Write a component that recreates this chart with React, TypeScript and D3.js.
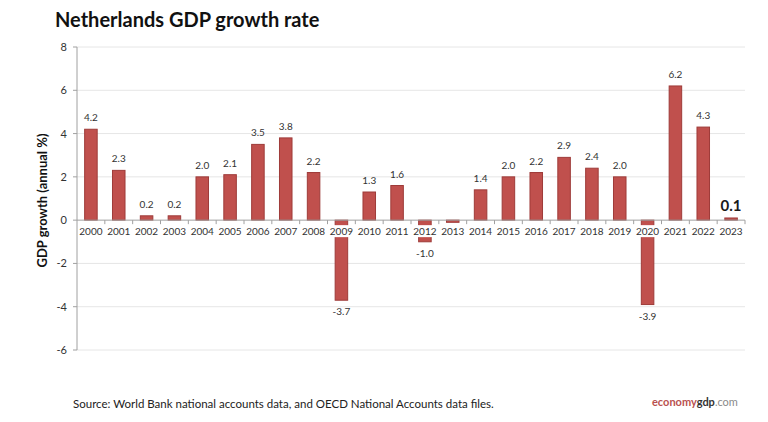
import React from "react";
import * as d3 from "d3";

const years = [
  "2000", "2001", "2002", "2003", "2004", "2005", "2006", "2007", "2008", "2009", "2010", "2011",
  "2012", "2013", "2014", "2015", "2016", "2017", "2018", "2019", "2020", "2021", "2022", "2023",
];
const growth = [
  4.2, 2.3, 0.2, 0.2, 2.0, 2.1, 3.5, 3.8, 2.2, -3.7, 1.3, 1.6,
  -1.0, -0.1, 1.4, 2.0, 2.2, 2.9, 2.4, 2.0, -3.9, 6.2, 4.3, 0.1,
];
const unlabeled = ["2013"];
const yTicks = [-6, -4, -2, 0, 2, 4, 6, 8];

const W = 768;
const H = 422;
const FONT = "Lato, 'Open Sans', sans-serif";

export default function App() {
  const x = d3.scaleBand<string>().domain(years).range([77, 745]).paddingInner(0.55).paddingOuter(0.275);
  const y = d3.scaleLinear().domain([-6, 8]).range([350, 47]);
  const step = x.step();
  const y0 = y(0);
  const last = years[years.length - 1];

  return (
    <div style={{ position: "absolute", left: 0, top: 0 }}>
      <svg width={W} height={H} style={{ display: "block", background: "#fff" }}>
        <text x={55} y={27} fontFamily={FONT} fontWeight={700} fontSize={20} fill="#111">
          Netherlands GDP growth rate
        </text>

        {/* grid */}
        {yTicks.filter((t) => t !== 0).map((t) => (
          <line key={t} x1={77} x2={745} y1={y(t)} y2={y(t)} stroke="#e6e6e6" />
        ))}

        {/* y axis */}
        <line x1={77} x2={77} y1={y(8)} y2={y(-6)} stroke="#a0a0a0" />
        {yTicks.map((t) => (
          <g key={t}>
            <line x1={73} x2={77} y1={y(t)} y2={y(t)} stroke="#a0a0a0" />
            <text x={67} y={y(t) + 4} textAnchor="end" fontFamily={FONT} fontSize={11} fill="#333">
              {t}
            </text>
          </g>
        ))}
        <text
          transform={`translate(47,${(y(8) + y(-6)) / 2 + 2}) rotate(-90)`}
          textAnchor="middle"
          fontFamily={FONT}
          fontWeight={700}
          fontSize={13}
          fill="#111"
        >
          GDP growth (annual %)
        </text>

        {/* bars */}
        {years.map((yr, i) => {
          const v = growth[i];
          return (
            <rect
              key={yr}
              x={x(yr)}
              width={x.bandwidth()}
              y={Math.min(y(v), y0)}
              height={Math.abs(y(v) - y0)}
              fill="#c0504d"
              stroke="#9e3b39"
              strokeWidth={1}
            />
          );
        })}

        {/* category axis */}
        <line x1={77} x2={745} y1={y0} y2={y0} stroke="#a0a0a0" />
        {years.map((yr, i) => (
          <line key={yr} x1={77 + (i + 1) * step} x2={77 + (i + 1) * step} y1={y0} y2={y0 + 4} stroke="#a0a0a0" />
        ))}
        {years.map((yr) => {
          const cx = (x(yr) as number) + x.bandwidth() / 2;
          return (
            <g key={yr}>
              <rect x={cx - 11} y={y0 + 5} width={22} height={12} fill="#fff" />
              <text x={cx} y={y0 + 15} textAnchor="middle" fontFamily={FONT} fontSize={10} fill="#333">
                {yr}
              </text>
            </g>
          );
        })}

        {/* value labels */}
        {years.map((yr, i) => {
          if (unlabeled.includes(yr)) return null;
          const v = growth[i];
          const cx = (x(yr) as number) + x.bandwidth() / 2;
          const isLast = yr === last;
          const ty = v >= 0 ? y(v) - (isLast ? 7 : 8) : y(v) + 15;
          return (
            <text
              key={yr}
              x={cx}
              y={ty}
              textAnchor="middle"
              fontFamily={FONT}
              fontSize={isLast ? 15 : 10}
              fontWeight={isLast ? 700 : 400}
              fill={isLast ? "#1a1a1a" : "#333"}
            >
              {v.toFixed(1)}
            </text>
          );
        })}

        <text x={73} y={408} fontFamily={FONT} fontSize={11.5} fill="#222">
          Source:  World Bank national accounts data, and OECD National Accounts data files.
        </text>
        <text x={652} y={406} fontFamily={FONT} fontSize={11} fontWeight={700}>
          <tspan fill="#b9514f">economy</tspan>
          <tspan fill="#333">gdp</tspan>
          <tspan fill="#8a8a8a" fontWeight={400}>.com</tspan>
        </text>
      </svg>
    </div>
  );
}
